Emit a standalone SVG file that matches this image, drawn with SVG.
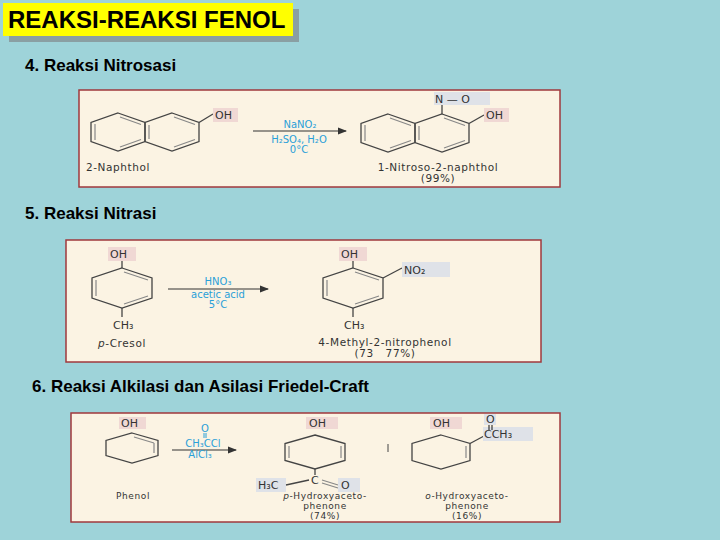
<svg xmlns="http://www.w3.org/2000/svg" width="720" height="540" viewBox="0 0 720 540">
<style>
.hd{font-family:"Liberation Sans",Arial,sans-serif;font-weight:bold;font-size:17px;fill:#000}
.lb{font-family:"DejaVu Sans",sans-serif;font-size:10.5px;fill:#333;text-anchor:middle;letter-spacing:0.6px}
.lb9{font-family:"DejaVu Sans",sans-serif;font-size:9px;fill:#333;text-anchor:middle;letter-spacing:0.6px}
.rg{font-family:"DejaVu Sans",sans-serif;font-size:10px;fill:#2aa0d8;text-anchor:middle}
.at{font-family:"DejaVu Sans",sans-serif;font-size:11px;fill:#333}
.pn{fill:#fbf3e3;stroke:#a0393c;stroke-width:1.5}
.b{fill:none;stroke:#444;stroke-width:1.3}
.d{fill:none;stroke:#888;stroke-width:1.2}
.oh{fill:#f0d8d4}
.bx{fill:#dfe2e8}
</style>
<defs><marker id="ar" markerWidth="8" markerHeight="6" refX="7" refY="3" orient="auto"><path d="M0,0 L8,3 L0,6 z" fill="#333"/></marker></defs>
<rect width="720" height="540" fill="#9ed3d9"/>
<g id="title">
<rect x="9" y="9" width="290" height="33" fill="#8a9fa3"/>
<rect x="3" y="3" width="290" height="33" fill="#ffff00"/>
<text x="8" y="28" font-family="Liberation Sans,Arial,sans-serif" font-weight="bold" font-size="24" fill="#000">REAKSI-REAKSI FENOL</text>
</g>
<text class="hd" x="25" y="71">4. Reaksi Nitrosasi</text>
<text class="hd" x="25" y="219">5. Reaksi Nitrasi</text>
<text class="hd" x="32" y="392">6. Reaksi Alkilasi dan Asilasi Friedel-Craft</text>

<g id="panel4">
<rect class="pn" x="79" y="90" width="481" height="97"/>
<polygon class="b" points="118,113 145,122.5 145,141.5 118,151 91,141.5 91,122.5"/>
<polygon class="b" points="172,113 199,122.5 199,141.5 172,151 145,141.5 145,122.5"/>
<path class="d" d="M95,124 L95,140 M120,117 L141,124.5 M120,147 L141,139.5 M174,117 L195,124.5 M174,147 L195,139.5 M149,125 L149,139"/>
<line class="b" x1="199" y1="122.5" x2="213" y2="114"/>
<rect class="oh" x="213" y="108" width="25" height="14"/>
<text class="at" x="215" y="119">OH</text>
<text class="lb" x="118" y="171">2-Naphthol</text>
<line x1="253" y1="131" x2="346" y2="131" stroke="#333" stroke-width="1.2" marker-end="url(#ar)"/>
<text class="rg" x="300" y="128">NaNO₂</text>
<text class="rg" x="299" y="143">H₂SO₄, H₂O</text>
<text class="rg" x="299" y="153">0°C</text>
<polygon class="b" points="388,114 415,123.5 415,142.5 388,152 361,142.5 361,123.5"/>
<polygon class="b" points="442,114 469,123.5 469,142.5 442,152 415,142.5 415,123.5"/>
<path class="d" d="M365,125 L365,141 M390,118 L411,125.5 M390,148 L411,140.5 M444,118 L465,125.5 M444,148 L465,140.5 M419,126 L419,140"/>
<line class="b" x1="442" y1="114" x2="442" y2="104"/>
<rect class="bx" x="434" y="92" width="56" height="13"/>
<text class="at" x="435" y="103">N — O</text>
<line class="b" x1="469" y1="123.5" x2="484" y2="115"/>
<rect class="oh" x="484" y="108" width="25" height="14"/>
<text class="at" x="486" y="119">OH</text>
<text class="lb" x="438" y="171">1-Nitroso-2-naphthol</text>
<text class="lb" x="438" y="182">(99%)</text>
</g>

<g id="panel5">
<rect class="pn" x="66" y="240" width="475" height="122"/>
<polygon class="b" points="122,268 152,278 152,298 122,308 92,298 92,278"/>
<path class="d" d="M124,272 L148,280 M124,304 L148,296 M96,280 L96,296"/>
<line class="b" x1="122" y1="268" x2="122" y2="260"/>
<rect class="oh" x="108" y="247" width="28" height="14"/>
<text class="at" x="110" y="258">OH</text>
<line class="b" x1="122" y1="308" x2="122" y2="317"/>
<text class="at" x="113" y="329">CH₃</text>
<text class="lb" x="122" y="347"><tspan font-style="italic">p</tspan>-Cresol</text>
<line x1="168" y1="289" x2="268" y2="289" stroke="#333" stroke-width="1.2" marker-end="url(#ar)"/>
<text class="rg" x="218" y="285">HNO₃</text>
<text class="rg" x="218" y="298">acetic acid</text>
<text class="rg" x="218" y="308">5°C</text>
<polygon class="b" points="353,268 383,278 383,298 353,308 323,298 323,278"/>
<path class="d" d="M355,272 L379,280 M355,304 L379,296 M327,280 L327,296"/>
<line class="b" x1="353" y1="268" x2="353" y2="260"/>
<rect class="oh" x="339" y="247" width="28" height="14"/>
<text class="at" x="341" y="258">OH</text>
<line class="b" x1="383" y1="278" x2="402" y2="268"/>
<rect class="bx" x="402" y="262" width="48" height="15"/>
<text class="at" x="404" y="274">NO₂</text>
<line class="b" x1="353" y1="308" x2="353" y2="317"/>
<text class="at" x="344" y="329">CH₃</text>
<text class="lb" x="385" y="346">4-Methyl-2-nitrophenol</text>
<text class="lb" x="385" y="357">(73&#160;&#160;&#160;77%)</text>
</g>

<g id="panel6">
<rect class="pn" x="71" y="413" width="489" height="109"/>
<polygon class="b" points="132,433 158,440.5 158,455.5 132,463 106,455.5 106,440.5"/>
<path class="d" d="M134,437 L154,443 M154,443 L154,453"/>
<rect class="oh" x="119" y="417" width="27" height="12"/>
<text class="at" x="121" y="427" font-size="10">OH</text>
<text class="lb9" x="133" y="499">Phenol</text>
<line x1="172" y1="450" x2="236" y2="450" stroke="#333" stroke-width="1.2" marker-end="url(#ar)"/>
<text class="rg" x="205" y="432" font-size="8">O</text>
<line x1="204" y1="433" x2="204" y2="438" stroke="#2aa0d8"/>
<line x1="206" y1="433" x2="206" y2="438" stroke="#2aa0d8"/>
<text class="rg" x="203" y="447" font-size="9">CH₃CCl</text>
<text class="rg" x="200" y="458" font-size="9">AlCl₃</text>
<polygon class="b" points="315,435 345,443.5 345,460.5 315,469 285,460.5 285,443.5"/>
<path class="d" d="M341,446 L341,458 M289,446 L289,458"/>
<rect class="oh" x="306" y="417" width="32" height="12"/>
<text class="at" x="309" y="427" font-size="10">OH</text>
<line class="b" x1="315" y1="469" x2="315" y2="475"/>
<text class="at" x="311" y="484" font-size="10">C</text>
<rect class="bx" x="256" y="478" width="30" height="14"/>
<text class="at" x="258" y="489" font-size="10">H₃C</text>
<line class="b" x1="286" y1="485" x2="309" y2="480"/>
<path class="d" d="M322,480 L338,485 M322,483 L338,488"/>
<rect class="bx" x="338" y="478" width="22" height="14"/>
<text class="at" x="341" y="489" font-size="10">O</text>
<line x1="388" y1="444" x2="388" y2="452" stroke="#444" stroke-width="1"/>
<polygon class="b" points="441,435 470,443.5 470,460.5 441,469 412,460.5 412,443.5"/>
<path class="d" d="M466,446 L466,458"/>
<rect class="oh" x="430" y="417" width="32" height="12"/>
<text class="at" x="433" y="427" font-size="10">OH</text>
<line class="b" x1="470" y1="443.5" x2="484" y2="436"/>
<rect class="bx" x="483" y="427" width="50" height="14"/>
<text class="at" x="484" y="438" font-size="10">CCH₃</text>
<rect class="bx" x="484" y="414" width="12" height="11"/>
<text class="at" x="486" y="423" font-size="9">O</text>
<path class="b" d="M489,425 L489,430 M492,425 L492,430"/>
<text class="lb9" x="325" y="499"><tspan font-style="italic">p</tspan>-Hydroxyaceto-</text>
<text class="lb9" x="325" y="509">phenone</text>
<text class="lb9" x="325" y="519">(74%)</text>
<text class="lb9" x="467" y="499"><tspan font-style="italic">o</tspan>-Hydroxyaceto-</text>
<text class="lb9" x="467" y="509">phenone</text>
<text class="lb9" x="467" y="519">(16%)</text>
</g>
</svg>
